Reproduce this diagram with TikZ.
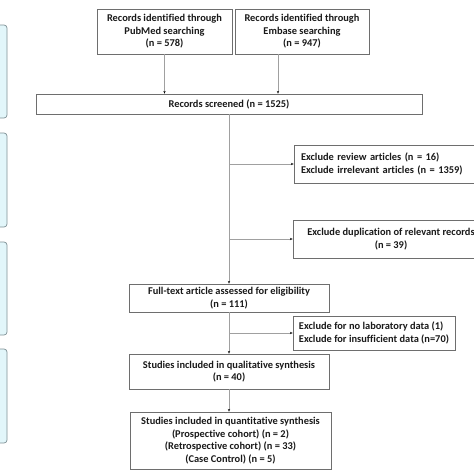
\documentclass[tikz,border=0pt]{standalone}
\usepackage{fontspec}
\setmainfont{Carlito}[Ligatures=NoCommon]
\usetikzlibrary{arrows.meta,calc}
\definecolor{boxline}{HTML}{6E6E6E}
\definecolor{conn}{HTML}{A0A0A0}
\definecolor{barfill}{HTML}{E2F6FA}
\definecolor{barline}{HTML}{7F9196}
\definecolor{txt}{HTML}{1A1A1A}
\begin{document}
\begin{tikzpicture}[x=1pt,y=-1pt,
  flowbox/.style={draw=boxline,line width=0.8pt,fill=white,rectangle,inner sep=0pt,
    font=\fontsize{10.4}{12.6}\selectfont\bfseries,text=txt,align=center},
  leftbox/.style={flowbox,align=left,inner xsep=7pt},
  arr/.style={draw=conn,line width=0.7pt,-{Stealth[length=2.6pt,width=2.2pt,color=black]}},
  bar/.style={draw=barline,fill=barfill,line width=0.7pt,rounded corners=3pt}]
\useasboundingbox (0,0) rectangle (474,474);
% left side bars
\draw[bar] (-10,25) rectangle (7,118);
\draw[bar] (-10,133) rectangle (7,227);
\draw[bar] (-10,242) rectangle (7,335);
\draw[bar] (-10,349) rectangle (7,443);
% boxes
\node[flowbox,minimum width=135pt,minimum height=45pt] (pub) at (164.5,31.5)
  {Records identified through\\PubMed searching\\(n = 578)};
\node[flowbox,minimum width=134pt,minimum height=45pt] (emb) at (302,31.5)
  {Records identified through\\Embase searching\\(n = 947)};
\node[flowbox,minimum width=386pt,minimum height=20pt] (scr) at (229,104)
  {Records screened (n = 1525)};
\node[leftbox,text width=176pt,minimum height=38pt] (rev) at (389,164)
  {Exclude review articles (n = 16)\\Exclude irrelevant articles (n = 1359)};
\node[flowbox,minimum width=196pt,minimum height=38pt] (dup) at (391,239)
  {Exclude duplication of relevant records\\(n = 39)};
\node[flowbox,minimum width=200pt,minimum height=28pt] (full) at (229,298)
  {Full-text article assessed for eligibility\\(n = 111)};
\node[flowbox,align=left,minimum width=162pt,minimum height=34pt] (lab) at (374,333)
  {Exclude for no laboratory data (1)\\Exclude for insufficient data (n=70)};
\node[flowbox,minimum width=200pt,minimum height=35pt] (qual) at (229,371.5)
  {Studies included in qualitative synthesis\\(n = 40)};
\node[flowbox,minimum width=201pt,minimum height=57pt] (quant) at (230.5,440.5)
  {Studies included in quantitative synthesis\\(Prospective cohort) (n = 2)\\(Retrospective cohort) (n = 33)\\(Case Control) (n = 5)};
% connectors
\coordinate (embout) at ([xshift=-24pt]emb.south);
\draw[arr] (pub.south) -- (pub.south |- scr.north);
\draw[arr] (embout) -- (embout |- scr.north);
\draw[arr] (scr.south) -- (scr.south |- full.north);
\coordinate (b1) at (scr.south |- rev.west);
\coordinate (b2) at (scr.south |- dup.west);
\draw[arr] (b1) -- (rev.west);
\draw[arr] (b2) -- (dup.west);
\draw[arr] (full.south) -- (full.south |- qual.north);
\coordinate (b3) at (full.south |- lab.west);
\draw[arr] (b3) -- (lab.west);
\draw[arr] (qual.south) -- (qual.south |- quant.north);
\end{tikzpicture}
\end{document}
